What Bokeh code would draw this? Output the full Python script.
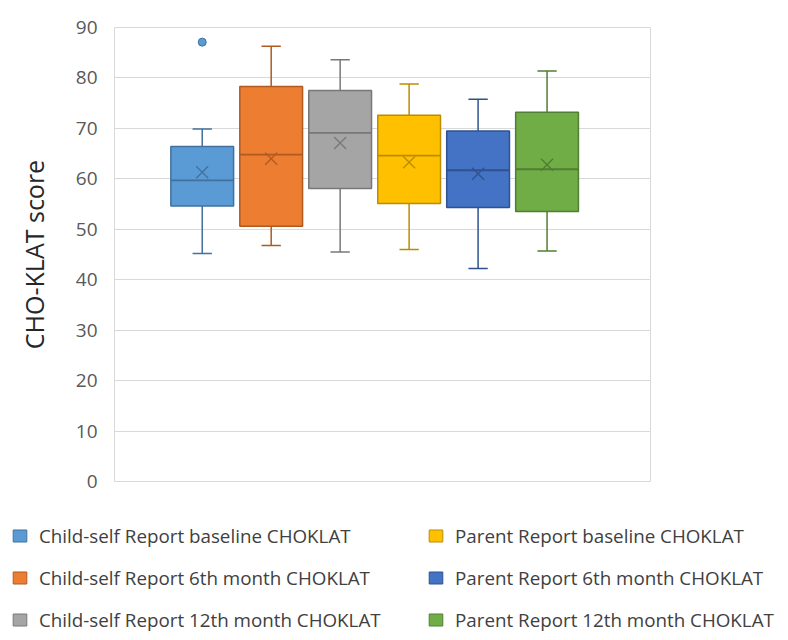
from bokeh.plotting import figure
from bokeh.models import Range1d, Legend, LegendItem, FixedTicker, ColumnDataSource
from bokeh.layouts import column
from bokeh.embed import file_html
from bokeh.resources import INLINE

categories = [
    "Child-self Report baseline CHOKLAT",
    "Child-self Report 6th month CHOKLAT",
    "Child-self Report 12th month CHOKLAT",
    "Parent Report baseline CHOKLAT",
    "Parent Report 6th month CHOKLAT",
    "Parent Report 12th month CHOKLAT",
]
whisker_low = [45.2, 46.8, 45.5, 46.0, 42.2, 45.7]
q1 = [54.6, 50.6, 58.1, 55.1, 54.3, 53.5]
median = [59.7, 64.8, 69.1, 64.6, 61.7, 61.9]
q3 = [66.4, 78.3, 77.5, 72.6, 69.5, 73.2]
whisker_high = [69.9, 86.3, 83.6, 78.8, 75.8, 81.4]
mean = [61.3, 64.0, 67.1, 63.3, 61.0, 62.8]
outlier_series = [0]
outlier_value = [87.1]
y_ticks = [0, 10, 20, 30, 40, 50, 60, 70, 80, 90]

fill_colors = ["#5B9BD5", "#ED7D31", "#A5A5A5", "#FFC000", "#4472C4", "#70AD47"]
line_colors = ["#41719C", "#AE5A21", "#787878", "#BC8C00", "#2F528F", "#507E32"]

pos = list(range(len(categories)))
box_w = 0.91
cap_w = 0.28

src = ColumnDataSource(dict(
    x=pos, lo=whisker_low, q1=q1, med=median, q3=q3, hi=whisker_high, mean=mean,
    cap_l=[p - cap_w / 2 for p in pos], cap_r=[p + cap_w / 2 for p in pos],
    box_l=[p - box_w / 2 for p in pos], box_r=[p + box_w / 2 for p in pos],
    fill=fill_colors, line=line_colors, label=categories,
))

p = figure(width=780, height=496, output_backend="svg", toolbar_location=None,
           x_range=Range1d(-1.272, 6.50), y_range=Range1d(0, 90),
           min_border_left=114, min_border_top=27, min_border_right=130, min_border_bottom=15)

p.background_fill_color = "white"
p.border_fill_color = "white"
p.outline_line_color = "#D9D9D9"
p.outline_line_width = 1

p.xaxis.visible = False
p.xgrid.visible = False
p.ygrid.grid_line_color = "#D9D9D9"
p.ygrid.grid_line_width = 1
p.yaxis.ticker = FixedTicker(ticks=y_ticks)
p.yaxis.axis_line_color = None
p.yaxis.major_tick_line_color = None
p.yaxis.minor_tick_line_color = None
p.yaxis.major_label_text_font = "Open Sans"
p.yaxis.major_label_text_font_size = "19px"
p.yaxis.major_label_text_color = "#595959"
p.yaxis.major_label_standoff = 11
p.yaxis.axis_label = "CHO-KLAT score"
p.yaxis.axis_label_text_font = "Open Sans"
p.yaxis.axis_label_text_font_size = "25px"
p.yaxis.axis_label_text_font_style = "normal"
p.yaxis.axis_label_text_color = "#262626"
p.yaxis.axis_label_standoff = 22

# whiskers
p.segment(x0="x", y0="q3", x1="x", y1="hi", line_color="line", line_width=1.5, source=src)
p.segment(x0="x", y0="lo", x1="x", y1="q1", line_color="line", line_width=1.5, source=src)
p.segment(x0="cap_l", y0="hi", x1="cap_r", y1="hi", line_color="line", line_width=1.5, source=src)
p.segment(x0="cap_l", y0="lo", x1="cap_r", y1="lo", line_color="line", line_width=1.5, source=src)
# boxes
p.vbar(x="x", width=box_w, bottom="q1", top="q3", fill_color="fill",
       line_color="line", line_width=1.5, source=src)
# medians
p.segment(x0="box_l", y0="med", x1="box_r", y1="med", line_color="line", line_width=1.8, source=src)
# means
p.scatter(x="x", y="mean", marker="x", size=17, line_color="line", line_width=1.3, source=src)
# outliers
p.scatter(x=outlier_series, y=outlier_value, marker="circle", size=8,
          fill_color=fill_colors[0], line_color=line_colors[0], line_width=1)

# legend panel (a second figure whose frame holds only the legend)
lp = figure(width=780, height=136, output_backend="svg", toolbar_location=None,
            x_range=Range1d(100, 101), y_range=Range1d(1000, 1001),
            min_border_left=0, min_border_right=0, min_border_top=0, min_border_bottom=0)
if "frame_align" in lp.properties():
    lp.frame_align = False
    p.frame_align = False
lp.axis.visible = False
lp.grid.visible = False
lp.outline_line_color = None
lp.background_fill_color = "white"
lp.border_fill_color = "white"
legend_boxes = lp.vbar(x="x", width=box_w, bottom="q1", top="q3", fill_color="fill",
                       line_color="line", line_width=1, source=src)

def make_legend(idx, loc):
    items = [LegendItem(label=categories[i], renderers=[legend_boxes], index=i) for i in idx]
    return Legend(items=items, location=loc, orientation="vertical",
                  glyph_width=17, glyph_height=15, label_height=27, spacing=15,
                  label_standoff=11, padding=0, margin=0,
                  border_line_color=None, background_fill_alpha=0,
                  label_text_font="Open Sans", label_text_font_size="18.8px",
                  label_text_color="#404040")

lp.add_layout(make_legend([0, 1, 2], (11, -1)), "center")
lp.add_layout(make_legend([3, 4, 5], (427, -1)), "center")

open("out.html", "w").write(file_html(column(p, lp, spacing=0), INLINE))
